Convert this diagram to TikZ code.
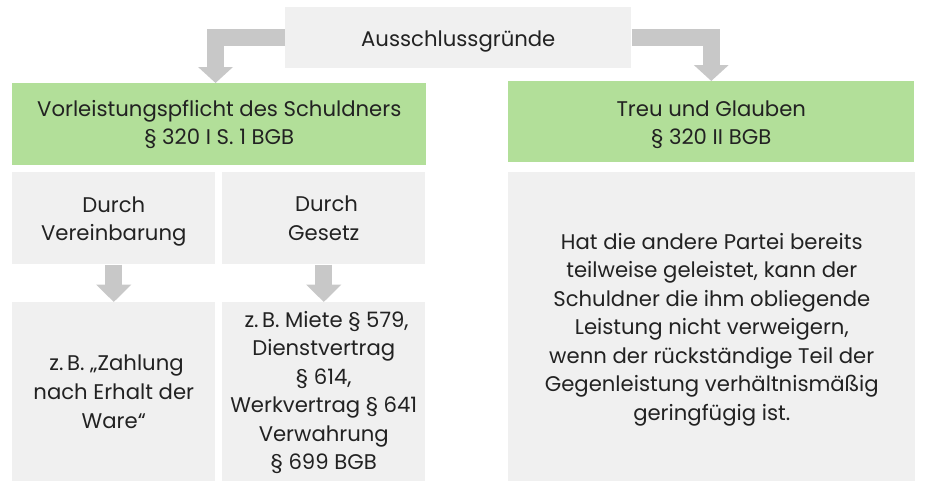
\documentclass[tikz,border=0pt]{standalone}
\usepackage{fontspec}
\setmainfont{Poppins}
\usetikzlibrary{arrows.meta}

\definecolor{boxgreen}{HTML}{B2DF99}
\definecolor{boxgray}{HTML}{F0F0F0}
\definecolor{arrowgray}{HTML}{C8C8C8}
\definecolor{textdark}{HTML}{222222}

% strut that pushes the first line of a box down a little
\newcommand{\firstline}[1][16.3pt]{\rule{0pt}{#1}}

\tikzset{
  box/.style={anchor=north west, fill=boxgray, text=textdark, inner sep=0pt,
    align=center, font=\fontsize{15.9}{21.4}\selectfont},
  topbox/.style={box, execute at begin node={\rule{0pt}{18pt}},
    execute at end node={\rule[-5pt]{0pt}{0pt}}},
  greenbox/.style={box, fill=boxgreen},
  bigarrow/.style={draw=arrowgray, line width=13pt, line join=miter,
    -{Triangle[width=25.5pt, length=12pt]}}
}

\begin{document}
\begin{tikzpicture}[x=0.75pt, y=-0.75pt]
        \useasboundingbox (0,0) rectangle (927,489);

        \node[topbox, minimum width=259.5pt, minimum height=45.75pt] (aus) at (285,7) {Ausschlussgründe};

        \node[greenbox, minimum width=310.5pt, minimum height=61.5pt] (vor) at (12,83) {Vorleistungspflicht des Schuldners\\\S\ 320 I S. 1 BGB};
        \node[greenbox, minimum width=304.5pt, minimum height=60.75pt] (treu) at (508,81) {\firstline Treu und Glauben\\\S\ 320 II BGB};

        \node[box, minimum width=152.25pt, minimum height=69pt] (ver) at (12,172) {\firstline Durch\\Vereinbarung};
        \node[box, minimum width=152.25pt, minimum height=69pt] (ges) at (222,172) {\firstline[11.8pt] Durch\\Gesetz};

        \node[box, minimum width=152.25pt, minimum height=134.25pt] (bspver) at (12,302) {\firstline[9pt] z.\,B. „Zahlung\\nach Erhalt der\\Ware“};
        \node[box, minimum width=152.25pt, minimum height=134.25pt] (bspges) at (222,302) {\firstline[13.3pt] z.\,B. Miete \S\ 579,\\Dienstvertrag\\\S\ 614,\\Werkvertrag \S\ 641\\Verwahrung\\\S\ 699 BGB};

        \node[box, minimum width=305.25pt, minimum height=231.75pt] (treutext) at (508,172) {\firstline Hat die andere Partei bereits\\teilweise geleistet, kann der\\Schuldner die ihm obliegende\\Leistung nicht verweigern,\\wenn der rückständige Teil der\\Gegenleistung verhältnismäßig\\geringfügig ist.};

        \draw[bigarrow] (aus.west) -| (ver.east |- vor.north);
        \draw[bigarrow] (aus.east) -| (treu.north);
        \draw[bigarrow, -{Triangle[width=25.5pt, length=13pt]}] (ver.south) -- (bspver.north);
        \draw[bigarrow, -{Triangle[width=25.5pt, length=13pt]}] (ges.south) -- (bspges.north);
      \end{tikzpicture}
\end{document}
